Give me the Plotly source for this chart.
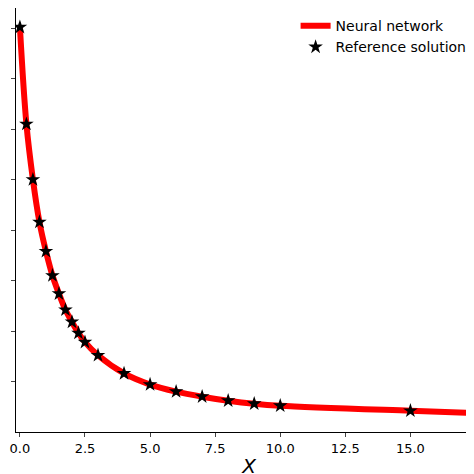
import plotly.graph_objects as go

x_ref = [0, 0.25, 0.5, 0.75, 1.0, 1.25, 1.5, 1.75, 2.0, 2.25, 2.5, 3, 4, 5, 6, 7, 8, 9, 10, 15]
y_ref = [4.01, 3.05, 2.50, 2.08, 1.79, 1.55, 1.37, 1.21, 1.09, 0.98, 0.89, 0.76, 0.58, 0.47, 0.40, 0.35, 0.31, 0.28, 0.26, 0.21]
x_nn = x_ref + [18.5]
y_nn = y_ref + [0.18]
xticks = [0, 2.5, 5, 7.5, 10, 12.5, 15, 17.5]
xtick_text = ["0.0", "2.5", "5.0", "7.5", "10.0", "12.5", "15.0", "17.5"]

fig = go.Figure()
fig.add_trace(go.Scatter(x=x_nn, y=y_nn, mode="lines", name="Neural network",
                         line=dict(color="red", width=6, shape="spline")))
fig.add_trace(go.Scatter(x=x_ref, y=y_ref, mode="markers", name="Reference solution",
                         marker=dict(symbol="star", color="black", size=11)))
fig.update_layout(
    width=474, height=474, plot_bgcolor="white", paper_bgcolor="white",
    margin=dict(l=8, r=0, t=0, b=50),
    font=dict(family="DejaVu Sans", size=12, color="black"),
    legend=dict(x=0.6, y=0.995, xanchor="left", yanchor="top", bgcolor="rgba(255,255,255,0.8)",
                font=dict(size=14)),
    xaxis=dict(range=[-0.15, 17.75], tickvals=xticks, ticktext=xtick_text, ticks="outside",
               ticklen=4, showgrid=False, zeroline=False, showline=True, linecolor="black",
               automargin=False, tickfont=dict(size=13),
               title=dict(text="<i>X</i>", font=dict(size=20), standoff=4)),
    yaxis=dict(range=[0, 4.2], showticklabels=False, ticks="outside", ticklen=4,
               tickvals=[0.5, 1, 1.5, 2, 2.5, 3, 3.5, 4], automargin=False,
               showgrid=False, zeroline=False, showline=True, linecolor="black", mirror=True),
)
fig.write_html("out.html")
